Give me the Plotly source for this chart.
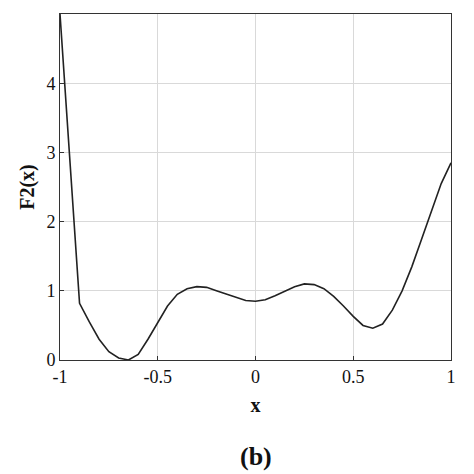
import plotly.graph_objects as go

x_vals = [-1.0, -0.9, -0.85, -0.8, -0.75, -0.7, -0.65, -0.6, -0.55, -0.5, -0.45, -0.4,
          -0.35, -0.3, -0.25, -0.2, -0.15, -0.1, -0.05, 0.0, 0.05, 0.1, 0.15, 0.2,
          0.25, 0.3, 0.35, 0.4, 0.45, 0.5, 0.55, 0.6, 0.65, 0.7, 0.75, 0.8, 0.85,
          0.9, 0.95, 1.0]
f2_vals = [5.0, 0.82, 0.55, 0.3, 0.12, 0.03, 0.0, 0.08, 0.3, 0.55, 0.78, 0.95,
           1.03, 1.06, 1.05, 1.0, 0.95, 0.9, 0.86, 0.85, 0.87, 0.93, 1.0, 1.06,
           1.1, 1.09, 1.03, 0.92, 0.78, 0.63, 0.5, 0.46, 0.52, 0.72, 1.0, 1.35, 1.75,
           2.15, 2.55, 2.85]
x_ticks = [-1, -0.5, 0, 0.5, 1]
x_tick_text = ["-1", "-0.5", "0", "0.5", "1"]
y_ticks = [0, 1, 2, 3, 4, 5]

serif = "Liberation Serif"

fig = go.Figure()
fig.add_trace(go.Scatter(x=x_vals, y=f2_vals, mode="lines",
                         line=dict(color="#222222", width=1.6)))

axis_common = dict(showgrid=True, gridcolor="#d9d9d9", gridwidth=1, zeroline=False,
                   showline=True, linecolor="#333333", linewidth=1, mirror=True,
                   ticks="inside", ticklen=4, tickcolor="#333333",
                   tickfont=dict(family=serif, size=18, color="#111111"))

fig.update_layout(
    width=474, height=474,
    paper_bgcolor="white", plot_bgcolor="white",
    margin=dict(l=52, r=31, t=6, b=122),
    showlegend=False,
    xaxis=dict(range=[-1, 1.0001], tickvals=x_ticks, ticktext=x_tick_text,
               title=dict(text="<b>x</b>", font=dict(family=serif, size=20, color="#111111"), standoff=12),
               **axis_common),
    yaxis=dict(range=[0, 5.001], tickvals=y_ticks,
               title=dict(text="<b>F2(x)</b>", font=dict(family=serif, size=20, color="#111111"), standoff=6),
               **axis_common),
)
fig.add_annotation(text="<b>(b)</b>", xref="paper", yref="paper", x=0.5, y=-0.28,
                   showarrow=False, font=dict(family=serif, size=26, color="#111111"),
                   yanchor="middle")

fig.write_html("out.html")
